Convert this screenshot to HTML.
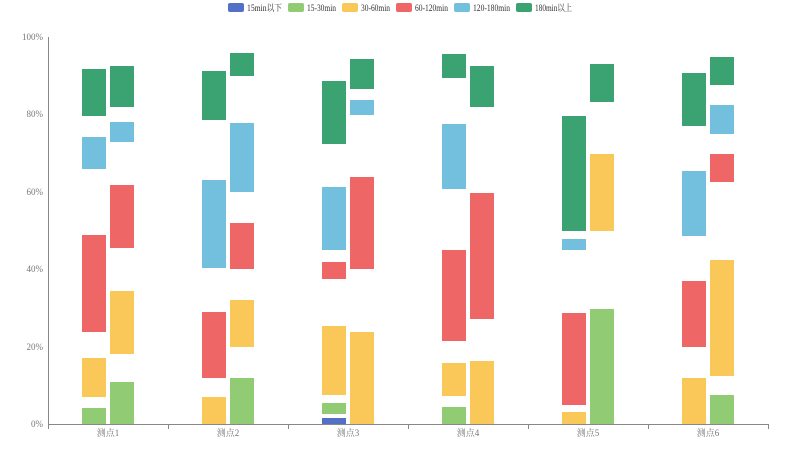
<!DOCTYPE html>
<html><head><meta charset="utf-8"><style>
html,body{margin:0;padding:0;background:#fff;}
text{font-family:"Liberation Serif","Noto Serif CJK SC",serif;}
</style></head><body>
<svg width="800" height="450" xmlns="http://www.w3.org/2000/svg">
<g font-size="9" fill="#333">
<rect x="228" y="3" width="16" height="9" rx="2" fill="#5470c6"/><text x="247" y="11" textLength="35" lengthAdjust="spacingAndGlyphs">15min以下</text>
<rect x="288" y="3" width="16" height="9" rx="2" fill="#91cc75"/><text x="307" y="11" textLength="29" lengthAdjust="spacingAndGlyphs">15-30min</text>
<rect x="342" y="3" width="16" height="9" rx="2" fill="#fac858"/><text x="361" y="11" textLength="29" lengthAdjust="spacingAndGlyphs">30-60min</text>
<rect x="396" y="3" width="16" height="9" rx="2" fill="#ee6666"/><text x="415" y="11" textLength="33" lengthAdjust="spacingAndGlyphs">60-120min</text>
<rect x="454" y="3" width="16" height="9" rx="2" fill="#73c0de"/><text x="473" y="11" textLength="37" lengthAdjust="spacingAndGlyphs">120-180min</text>
<rect x="516" y="3" width="16" height="9" rx="2" fill="#3ba272"/><text x="535" y="11" textLength="37" lengthAdjust="spacingAndGlyphs">180min以上</text>
</g>
<line x1="48.5" y1="37" x2="48.5" y2="424" stroke="#888"/>
<line x1="48" y1="424.5" x2="768" y2="424.5" stroke="#888"/>
<g stroke="#888">
<line x1="48.5" y1="424" x2="48.5" y2="429"/><line x1="168.5" y1="424" x2="168.5" y2="429"/><line x1="288.5" y1="424" x2="288.5" y2="429"/><line x1="408.5" y1="424" x2="408.5" y2="429"/><line x1="528.5" y1="424" x2="528.5" y2="429"/><line x1="648.5" y1="424" x2="648.5" y2="429"/><line x1="768.5" y1="424" x2="768.5" y2="429"/>
</g>
<g font-size="9" fill="#777" text-anchor="end">
<text x="43" y="427">0%</text><text x="43" y="350">20%</text><text x="43" y="272">40%</text><text x="43" y="195">60%</text><text x="43" y="117">80%</text><text x="43" y="40">100%</text>
</g>
<g font-size="9" fill="#777" text-anchor="middle">
<text x="108" y="436">测点1</text><text x="228" y="436">测点2</text><text x="348" y="436">测点3</text><text x="468" y="436">测点4</text><text x="588" y="436">测点5</text><text x="708" y="436">测点6</text>
</g>
<rect x="82" y="408" width="24" height="16" fill="#91cc75"/>
<rect x="82" y="358" width="24" height="39" fill="#fac858"/>
<rect x="82" y="235" width="24" height="97" fill="#ee6666"/>
<rect x="82" y="137" width="24" height="32" fill="#73c0de"/>
<rect x="82" y="69" width="24" height="47" fill="#3ba272"/>
<rect x="110" y="382" width="24" height="42" fill="#91cc75"/>
<rect x="110" y="291" width="24" height="63" fill="#fac858"/>
<rect x="110" y="185" width="24" height="63" fill="#ee6666"/>
<rect x="110" y="122" width="24" height="20" fill="#73c0de"/>
<rect x="110" y="66" width="24" height="41" fill="#3ba272"/>
<rect x="202" y="397" width="24" height="27" fill="#fac858"/>
<rect x="202" y="312" width="24" height="66" fill="#ee6666"/>
<rect x="202" y="180" width="24" height="88" fill="#73c0de"/>
<rect x="202" y="71" width="24" height="49" fill="#3ba272"/>
<rect x="230" y="378" width="24" height="46" fill="#91cc75"/>
<rect x="230" y="300" width="24" height="47" fill="#fac858"/>
<rect x="230" y="223" width="24" height="46" fill="#ee6666"/>
<rect x="230" y="123" width="24" height="69" fill="#73c0de"/>
<rect x="230" y="53" width="24" height="23" fill="#3ba272"/>
<rect x="322" y="418" width="24" height="6" fill="#5470c6"/>
<rect x="322" y="403" width="24" height="11" fill="#91cc75"/>
<rect x="322" y="326" width="24" height="69" fill="#fac858"/>
<rect x="322" y="262" width="24" height="17" fill="#ee6666"/>
<rect x="322" y="187" width="24" height="63" fill="#73c0de"/>
<rect x="322" y="81" width="24" height="63" fill="#3ba272"/>
<rect x="350" y="332" width="24" height="92" fill="#fac858"/>
<rect x="350" y="177" width="24" height="92" fill="#ee6666"/>
<rect x="350" y="100" width="24" height="15" fill="#73c0de"/>
<rect x="350" y="59" width="24" height="30" fill="#3ba272"/>
<rect x="442" y="407" width="24" height="17" fill="#91cc75"/>
<rect x="442" y="363" width="24" height="33" fill="#fac858"/>
<rect x="442" y="250" width="24" height="91" fill="#ee6666"/>
<rect x="442" y="124" width="24" height="65" fill="#73c0de"/>
<rect x="442" y="54" width="24" height="24" fill="#3ba272"/>
<rect x="470" y="361" width="24" height="63" fill="#fac858"/>
<rect x="470" y="193" width="24" height="126" fill="#ee6666"/>
<rect x="470" y="66" width="24" height="41" fill="#3ba272"/>
<rect x="562" y="412" width="24" height="12" fill="#fac858"/>
<rect x="562" y="313" width="24" height="92" fill="#ee6666"/>
<rect x="562" y="239" width="24" height="11" fill="#73c0de"/>
<rect x="562" y="116" width="24" height="115" fill="#3ba272"/>
<rect x="590" y="309" width="24" height="115" fill="#91cc75"/>
<rect x="590" y="154" width="24" height="77" fill="#fac858"/>
<rect x="590" y="64" width="24" height="38" fill="#3ba272"/>
<rect x="682" y="378" width="24" height="46" fill="#fac858"/>
<rect x="682" y="281" width="24" height="66" fill="#ee6666"/>
<rect x="682" y="171" width="24" height="65" fill="#73c0de"/>
<rect x="682" y="73" width="24" height="53" fill="#3ba272"/>
<rect x="710" y="395" width="24" height="29" fill="#91cc75"/>
<rect x="710" y="260" width="24" height="116" fill="#fac858"/>
<rect x="710" y="154" width="24" height="28" fill="#ee6666"/>
<rect x="710" y="105" width="24" height="29" fill="#73c0de"/>
<rect x="710" y="57" width="24" height="28" fill="#3ba272"/>
</svg>
</body></html>
